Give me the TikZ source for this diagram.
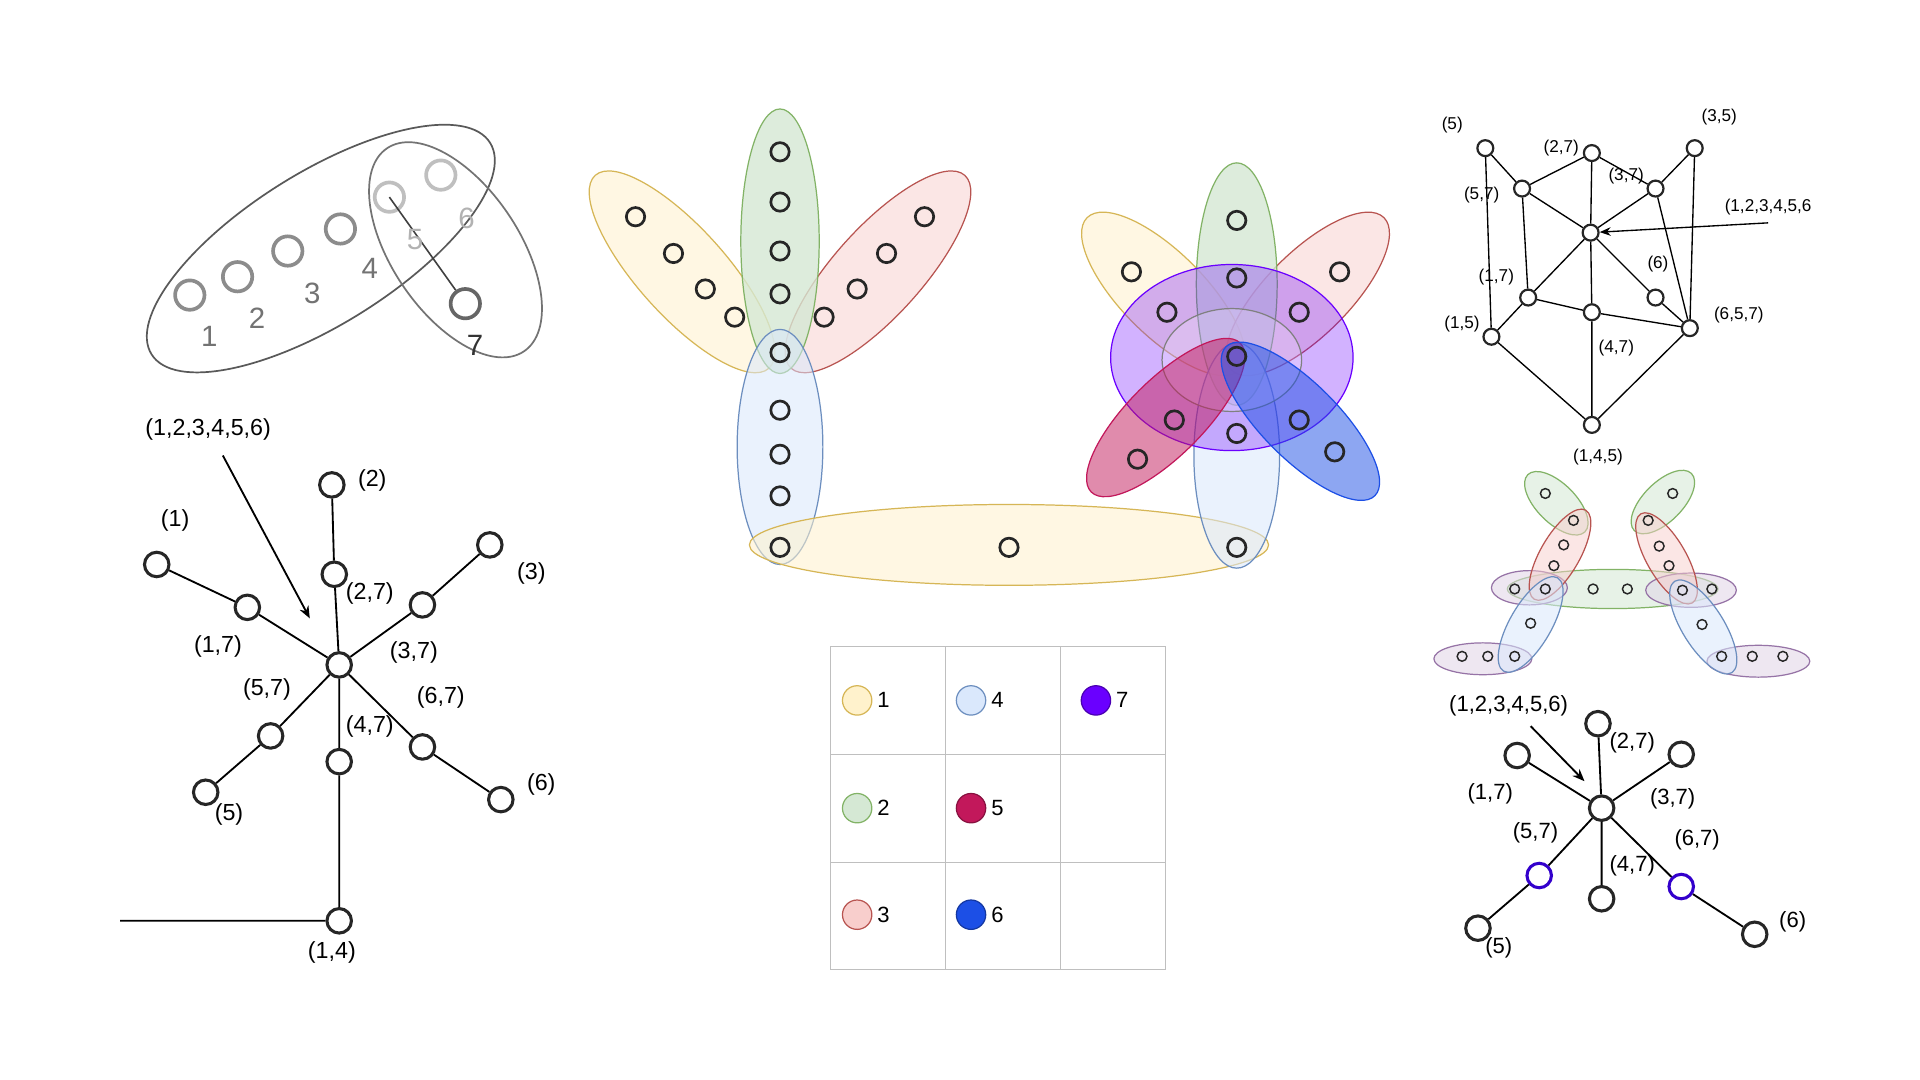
\documentclass[tikz,border=0pt]{standalone}
\usepackage{fontspec}
\setmainfont{Liberation Sans}
\usetikzlibrary{arrows.meta}
\definecolor{yF}{HTML}{FFF2CC}\definecolor{yD}{HTML}{D6B656}
\definecolor{gF}{HTML}{D5E8D4}\definecolor{gD}{HTML}{82B366}
\definecolor{rF}{HTML}{F8CECC}\definecolor{rD}{HTML}{B85450}
\definecolor{bF}{HTML}{DAE8FC}\definecolor{bD}{HTML}{6C8EBF}
\definecolor{pF}{HTML}{E1D5E7}\definecolor{pD}{HTML}{9673A6}
\definecolor{crim}{HTML}{C2185B}\definecolor{blu}{HTML}{1C4FE6}\definecolor{vio}{HTML}{6A00FF}
\definecolor{tblue}{HTML}{3300CC}
\tikzset{
 big/.style={circle,draw=black!85,line width=2.5pt,minimum size=20pt,inner sep=0pt,fill=white},
 mid/.style={circle,draw=black!85,line width=2.2pt,minimum size=15pt,inner sep=0pt},
 sml/.style={circle,draw=black!85,line width=1.8pt,minimum size=13pt,inner sep=0pt,fill=white},
 tiny/.style={circle,draw=black!85,line width=1.2pt,minimum size=8pt,inner sep=0pt},
 gv/.style={circle,line width=3pt,minimum size=24pt,inner sep=0pt},
 lab/.style={font=\fontsize{19}{22}\selectfont},
 lab2/.style={font=\fontsize{14}{16}\selectfont},
 lab3/.style={font=\fontsize{18}{21}\selectfont},
 edge/.style={line width=1.5pt},
 edge2/.style={line width=1.1pt},
 ye/.style={fill=yF,draw=yD,fill opacity=.55,line width=1pt},
 ge/.style={fill=gF,draw=gD,fill opacity=.8,line width=1pt},
 re/.style={fill=rF,draw=rD,fill opacity=.5,line width=1pt},
 be/.style={fill=bF,draw=bD,fill opacity=.55,line width=1pt},
 pe/.style={fill=pF,draw=pD,fill opacity=.55,line width=1pt},
}
\begin{document}
\begin{tikzpicture}[x=1pt,y=-1pt]
\useasboundingbox (0,0) rectangle (1568,882);
\fill[white] (0,0) rectangle (1568,882);
% ---------- top-left
\draw[black!65,line width=1.4pt,rotate around={32:(262,203)}] (262,203) ellipse [x radius=163,y radius=62];
\draw[black!55,line width=1.4pt,rotate around={-56:(372,204)}] (372,204) ellipse [x radius=100,y radius=52];
\foreach \n/\x/\y in {1/155/241,2/194/226,3/235/205,4/278/187}
  \node[gv,draw=black!45] (g\n) at (\x,\y) {};
\node[gv,draw=black!25] (g5) at (318,161) {};
\node[gv,draw=black!25] (g6) at (360,143) {};
\node[gv,draw=black!60] (g7) at (380,248) {};
\draw[black!75,line width=1.3pt] (g5.center) -- (g7);
\tikzset{gl/.style={font=\fontsize{24}{26}\selectfont}}
\node[gl,text=black!55] at (171,275) {1};
\node[gl,text=black!55] at (210,260) {2};
\node[gl,text=black!55] at (255,240) {3};
\node[gl,text=black!55] at (302,219) {4};
\node[gl,text=black!30] at (339,196) {5};
\node[gl,text=black!30] at (381,178) {6};
\node[gl,text=black!80] at (388,282) {7};
% ---------- bottom-left tree
\node[big] (c) at (277,543) {};
\node[big] (n2) at (271,396) {};
\node[big] (n27) at (273,469) {};
\node[big] (n1) at (128,461) {};
\node[big] (n17) at (202,496) {};
\node[big] (n3) at (400,445) {};
\node[big] (n37) at (345,494) {};
\node[big] (n57) at (221,601) {};
\node[big] (n5) at (168,647) {};
\node[big] (n47) at (277,622) {};
\node[big] (n67) at (345,610) {};
\node[big] (n6) at (409,653) {};
\node[big] (n14) at (277,752) {};
\coordinate (lend) at (98,752);
\draw[edge] (n2)--(n27)--(c) (n1)--(n17)--(c) (n3)--(n37)--(c) (n5)--(n57)--(c) (n6)--(n67)--(c) (c)--(n47)--(n14) (lend)--(n14);
\node[lab] (tl) at (170,351) {(1,2,3,4,5,6)};
\coordinate (ta) at (182,372); \coordinate (tb) at (253,505);
\draw[edge,-{Stealth[length=10pt,width=8pt]}] (ta)--(tb);
\node[lab] at (304,392) {(2)};
\node[lab] at (143,425) {(1)};
\node[lab] at (434,468) {(3)};
\node[lab] at (302,485) {(2,7)};
\node[lab] at (178,528) {(1,7)};
\node[lab] at (338,533) {(3,7)};
\node[lab] at (218,563) {(5,7)};
\node[lab] at (360,570) {(6,7)};
\node[lab] at (302,593) {(4,7)};
\node[lab] at (187,665) {(5)};
\node[lab] at (442,641) {(6)};
\node[lab] at (271,778) {(1,4)};
% ---------- middle-left flower
\path[ye,rotate around={-48:(557,222)}] (557,222) ellipse [x radius=106,y radius=36];
\path[re,rotate around={48:(717,222)}] (717,222) ellipse [x radius=106,y radius=36];
\path[ge] (637,197) ellipse [x radius=32,y radius=108];
\path[be] (637,365) ellipse [x radius=35,y radius=96];
\path[ye] (824,445) ellipse [x radius=212,y radius=33];
% ---------- middle-right flower
\path[ye,rotate around={-45:(950,240)}] (950,240) ellipse [x radius=88,y radius=34];
\path[re,rotate around={45:(1068,240)}] (1068,240) ellipse [x radius=88,y radius=34];
\path[ge] (1010,232) ellipse [x radius=33,y radius=99];
\path[be] (1010,372) ellipse [x radius=35,y radius=92];
\path[fill=vio,draw=vio,fill opacity=.3,line width=1pt] (1006,292) ellipse [x radius=99,y radius=76];
\path[fill=white,draw=black!50,fill opacity=.2,line width=1pt] (1006,294) ellipse [x radius=57,y radius=42];
\path[fill=crim,draw=crim,fill opacity=.5,line width=1pt,rotate around={45:(952,341)}] (952,341) ellipse [x radius=86,y radius=31];
\path[fill=blu,draw=blu,fill opacity=.5,line width=1pt,rotate around={-45:(1062,344)}] (1062,344) ellipse [x radius=86,y radius=31];
\foreach \n/\x/\y in {a/637/124,b/637/165,c/637/205,d/637/240,e/637/288,f/637/335,g/637/371,h/637/405,i/637/447,j/519/177,k/550/207,l/576/236,m/600/259,n/755/177,o/724/207,p/700/236,q/673/259,r/824/447,s/1010/447,
 t/1010/180,u/924/222,v/1094/222,w/953/255,x/1010/227,y/1061/255,z/1010/291,A/959/343,B/1010/354,C/1061/343,D/929/375,E/1090/369}
  \node[mid] (m\n) at (\x,\y) {};
% ---------- legend
\draw[black!25,line width=0.8pt] (678,528) rectangle (952,792);
\draw[black!25,line width=0.8pt] (772,528)--(772,792) (866,528)--(866,792) (678,616)--(952,616) (678,704)--(952,704);
\tikzset{lg/.style={circle,minimum size=24pt,inner sep=0pt,line width=1pt}, lt/.style={font=\fontsize{18}{20}\selectfont,anchor=west}}
\node[lg,fill=yF,draw=yD] (k1) at (700,572) {}; \node[lt] at (713,572) {1};
\node[lg,fill=bF,draw=bD] (k4) at (793,572) {}; \node[lt] at (806,572) {4};
\node[lg,fill=vio,draw=vio!70!black] (k7) at (895,572) {}; \node[lt] at (908,572) {7};
\node[lg,fill=gF,draw=gD] (k2) at (700,660) {}; \node[lt] at (713,660) {2};
\node[lg,fill=crim,draw=crim!70!black] (k5) at (793,660) {}; \node[lt] at (806,660) {5};
\node[lg,fill=rF,draw=rD] (k3) at (700,747) {}; \node[lt] at (713,747) {3};
\node[lg,fill=blu,draw=blu!70!black] (k6) at (793,747) {}; \node[lt] at (806,747) {6};
% ---------- right-top graph
\node[sml] (r5) at (1213,121) {};
\node[sml] (r27) at (1300,125) {};
\node[sml] (r35) at (1384,121) {};
\node[sml] (r57) at (1243,154) {};
\node[sml] (r37) at (1352,154) {};
\node[sml] (rc) at (1299,190) {};
\node[sml] (r17) at (1248,243) {};
\node[sml] (r47) at (1300,255) {};
\node[sml] (r6) at (1352,243) {};
\node[sml] (r15) at (1218,275) {};
\node[sml] (r657) at (1380,268) {};
\node[sml] (r145) at (1300,347) {};
\draw[edge2] (r5)--(r15) (r5)--(r57) (r57)--(r27) (r57)--(rc) (r57)--(r17) (r27)--(rc) (r27)--(r37) (r37)--(r35) (r37)--(rc) (r37)--(r657) (r35)--(r657) (rc)--(r17) (rc)--(r47) (rc)--(r6) (r6)--(r657) (r17)--(r15) (r17)--(r47) (r47)--(r657) (r15)--(r145) (r47)--(r145) (r657)--(r145);
\coordinate (ra) at (1444,182);
\draw[edge2,-{Stealth[length=9pt,width=7pt]}] (ra)--(rc);
\node[lab2] at (1186,102) {(5)};
\node[lab2] at (1404,96) {(3,5)};
\node[lab2] at (1275,121) {(2,7)};
\node[lab2] at (1328,144) {(3,7)};
\node[lab2] at (1210,159) {(5,7)};
\node[lab2,anchor=west] at (1405,169) {(1,2,3,4,5,6};
\node[lab2] at (1354,216) {(6)};
\node[lab2] at (1222,226) {(1,7)};
\node[lab2] at (1194,265) {(1,5)};
\node[lab2] at (1320,284) {(4,7)};
\node[lab2] at (1420,257) {(6,5,7)};
\node[lab2] at (1305,373) {(1,4,5)};
% ---------- right-middle hypergraph
\path[ge,fill opacity=.55] (1317,481) ellipse [x radius=86,y radius=16];
\path[pe] (1249,480) ellipse [x radius=31,y radius=14];
\path[pe] (1381,482) ellipse [x radius=37,y radius=14];
\path[pe] (1211,538) ellipse [x radius=40,y radius=13];
\path[pe] (1436,540) ellipse [x radius=42,y radius=13];
\path[ge,fill opacity=.55,rotate around={-45:(1271,411)}] (1271,411) ellipse [x radius=33,y radius=16];
\path[ge,fill opacity=.55,rotate around={45:(1358,410)}] (1358,410) ellipse [x radius=33,y radius=16];
\path[re,rotate around={60:(1274,453)}] (1274,453) ellipse [x radius=42,y radius=16];
\path[re,rotate around={-60:(1361,456)}] (1361,456) ellipse [x radius=42,y radius=16];
\path[be,rotate around={60:(1250,510)}] (1250,510) ellipse [x radius=44,y radius=17];
\path[be,rotate around={-58:(1391,512)}] (1391,512) ellipse [x radius=44,y radius=17];
\foreach \n/\x/\y in {a/1262/403,b/1285/425,c/1277/445,d/1269/462,e/1237/481,f/1262/481,g/1301/481,h/1329/481,i/1250/509,j/1194/536,k/1215/536,l/1237/536,
 A/1366/403,B/1346/425,C/1355/446,D/1363/462,E/1374/482,F/1398/481,I/1390/510,J/1406/536,K/1431/536,L/1456/536}
  \node[tiny] (h\n) at (\x,\y) {};
% ---------- bottom-right tree
\node[big] (bc) at (1308,660) {};
\node[big] (b27) at (1305,591) {};
\node[big] (b17) at (1239,617) {};
\node[big] (b37) at (1373,616) {};
\node[big,draw=tblue] (b57) at (1257,715) {};
\node[big] (b5) at (1207,758) {};
\node[big] (b47) at (1308,734) {};
\node[big,draw=tblue] (b67) at (1373,724) {};
\node[big] (b6) at (1433,763) {};
\draw[edge] (b27)--(bc) (b17)--(bc) (b37)--(bc) (bc)--(b57)--(b5) (bc)--(b47) (bc)--(b67)--(b6);
\coordinate (ba) at (1250,593); \coordinate (bb) at (1294,638);
\draw[edge,-{Stealth[length=10pt,width=8pt]}] (ba)--(bb);
\node[lab3] at (1232,576) {(1,2,3,4,5,6)};
\node[lab3] at (1333,607) {(2,7)};
\node[lab3] at (1217,648) {(1,7)};
\node[lab3] at (1366,652) {(3,7)};
\node[lab3] at (1254,680) {(5,7)};
\node[lab3] at (1386,686) {(6,7)};
\node[lab3] at (1333,707) {(4,7)};
\node[lab3] at (1224,774) {(5)};
\node[lab3] at (1464,753) {(6)};
\end{tikzpicture}
\end{document}
